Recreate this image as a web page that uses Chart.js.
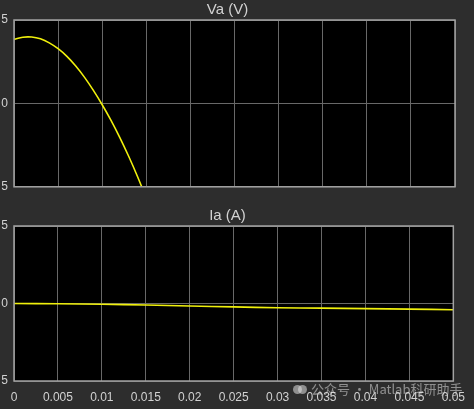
<!DOCTYPE html>
<html>
<head>
<meta charset="utf-8">
<script src="https://cdn.jsdelivr.net/npm/chart.js@4"></script>
<style>
  body { margin: 0; background: #2d2d2d; width: 474px; height: 409px; overflow: hidden; position: relative; }
  #vaBox { position: absolute; left: 0; top: 0; width: 474px; height: 200px; }
  #iaBox { position: absolute; left: 0; top: 200px; width: 474px; height: 209px; }
  #mark { position: absolute; left: 293px; top: 379px; color: rgba(225,225,225,0.55);
          font: 13px "Noto Sans CJK SC", sans-serif; white-space: nowrap; }
  .dot { display: inline-block; width: 9px; height: 9px; border-radius: 50%; background: rgba(225,225,225,0.55); }
</style>
</head>
<body>
<div id="vaBox"><canvas id="vaChart" width="474" height="200"></canvas></div>
<div id="iaBox"><canvas id="iaChart" width="474" height="209"></canvas></div>
<div id="mark"><span class="dot"></span><span class="dot" style="margin-left:-4px;margin-right:4px"></span>公众号 · Matlab科研助手</div>
<script>
// time axis ticks
const xTicks = [0, 0.005, 0.01, 0.015, 0.02, 0.025, 0.03, 0.035, 0.04, 0.045, 0.05];
const xTickLabels = ["0", "0.005", "0.01", "0.015", "0.02", "0.025", "0.03", "0.035", "0.04", "0.045", "0.05"];
const yTickLabels = ["5", "0", "5"]; // as shown (minus cut off at the left edge)

// Va (V)
const vaTime = [0, 0.001, 0.002, 0.003, 0.004, 0.005, 0.006, 0.007, 0.008, 0.009, 0.010, 0.011, 0.012, 0.013, 0.014, 0.015];
const vaValues = [3.84, 3.97, 3.98, 3.87, 3.63, 3.28, 2.82, 2.24, 1.56, 0.78, -0.08, -1.02, -2.05, -3.17, -4.38, -5.68];

// Ia (A)
const iaTime = [0, 0.005, 0.01, 0.015, 0.02, 0.025, 0.03, 0.035, 0.04, 0.045, 0.05];
const iaValues = [0, -0.02, -0.05, -0.1, -0.16, -0.22, -0.27, -0.3, -0.33, -0.36, -0.4];

const textColor = "#d2d2d2";
const gridColor = "#686868";
const frameColor = "#a2a2a2";
const lineColor = "#f0f00c";

// black plot area + light frame
const framePlugin = {
  id: "frame",
  beforeDraw(chart) {
    const a = chart.chartArea, ctx = chart.ctx;
    ctx.save();
    ctx.fillStyle = "#000";
    ctx.fillRect(a.left, a.top, a.right - a.left, a.bottom - a.top);
    ctx.restore();
  },
  afterDraw(chart) {
    const a = chart.chartArea, ctx = chart.ctx;
    ctx.save();
    ctx.strokeStyle = frameColor;
    ctx.lineWidth = 1.5;
    ctx.strokeRect(a.left, a.top, a.right - a.left, a.bottom - a.top);
    ctx.restore();
  }
};

function makeChart(id, title, times, values, showXLabels, topPad, xHeight) {
  return new Chart(document.getElementById(id), {
    type: "line",
    data: {
      datasets: [{
        data: times.map((t, i) => ({ x: t, y: values[i] })),
        borderColor: lineColor,
        borderWidth: 1.6,
        pointRadius: 0,
        tension: 0.4,
        fill: false
      }]
    },
    options: {
      responsive: false,
      animation: false,
      layout: { padding: { left: 0, right: 19, top: topPad, bottom: 0 } },
      plugins: {
        legend: { display: false },
        tooltip: { enabled: false },
        title: {
          display: true,
          text: title,
          color: textColor,
          font: { family: "'Liberation Sans', Arial, sans-serif", size: 15, weight: "normal" },
          padding: { top: 1, bottom: 1 }
        }
      },
      scales: {
        x: {
          type: "linear",
          min: 0,
          max: 0.05,
          afterBuildTicks: (s) => { s.ticks = xTicks.map(v => ({ value: v })); },
          afterFit: (s) => { s.height = xHeight; },
          ticks: {
            display: showXLabels,
            color: textColor,
            padding: 9,
            maxRotation: 0,
            autoSkip: false,
            font: { family: "'Liberation Sans', Arial, sans-serif", size: 12 },
            callback: (v, i) => xTickLabels[i]
          },
          grid: { color: gridColor, lineWidth: 1, drawTicks: false },
          border: { display: false }
        },
        y: {
          min: -5,
          max: 5,
          afterFit: (s) => { s.width = 14; },
          ticks: {
            stepSize: 5,
            color: textColor,
            padding: 6,
            font: { family: "'Liberation Sans', Arial, sans-serif", size: 12 },
            callback: (v, i) => yTickLabels[yTickLabels.length - 1 - i]
          },
          grid: { color: gridColor, lineWidth: 1, drawTicks: false },
          border: { display: false }
        }
      }
    },
    plugins: [framePlugin]
  });
}

makeChart("vaChart", "Va (V)", vaTime, vaValues, false, 0, 13);
makeChart("iaChart", "Ia (A)", iaTime, iaValues, true, 6, 28);
</script>
</body>
</html>
